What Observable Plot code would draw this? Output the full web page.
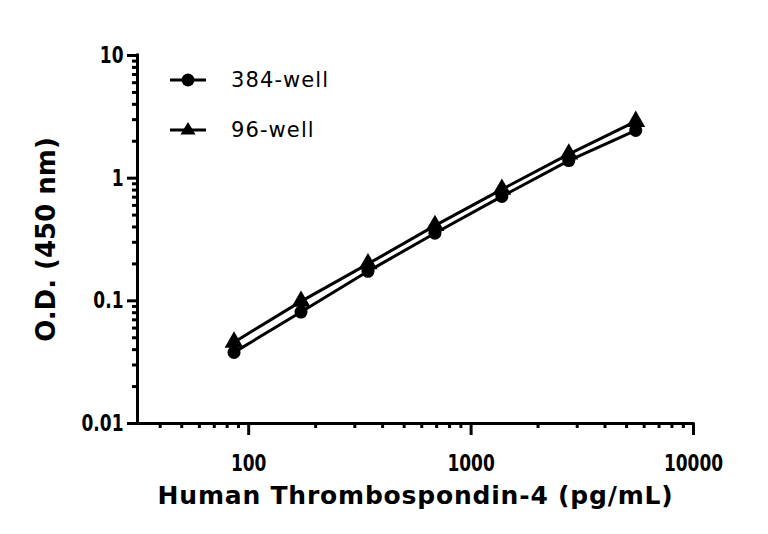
<!DOCTYPE html>
<html>
<head>
<meta charset="utf-8">
<script src="https://cdn.jsdelivr.net/npm/d3@7"></script>
<script src="https://cdn.jsdelivr.net/npm/@observablehq/plot@0.6"></script>
<style>
  html, body { margin: 0; padding: 0; background: #fff; }
  #chart { position: relative; width: 768px; height: 534px; }
  #legend { position: absolute; left: 168px; top: 55px; font-family: "DejaVu Sans", sans-serif; font-size: 21px; letter-spacing: 1.1px; color: #000; }
  #legend .row { display: flex; align-items: center; height: 50px; }
  #legend svg { margin-right: 23px; }
</style>
</head>
<body>
<div id="chart"></div>
<script>
// Standard curve: concentration (pg/mL) vs optical density at 450 nm
const concentrations = [85.9, 171.9, 343.8, 687.5, 1375, 2750, 5500];
const od384 = [0.038, 0.081, 0.174, 0.356, 0.71, 1.39, 2.45];
const od96 = [0.046, 0.099, 0.20, 0.41, 0.81, 1.57, 2.9];
const seriesNames = ["384-well", "96-well"];

const xTicks = [100, 1000, 10000];
const yTicks = [0.01, 0.1, 1, 10];
const yTickLabels = ["0.01", "0.1", "1", "10"];

const xDomain = [Math.sqrt(10) * 10, 10000];
const yDomain = [0.01, 10];

// minor ticks at 2..9 times each decade
const minorTicks = (lo, hi) => {
  const out = [];
  for (let d = Math.floor(Math.log10(lo)); d < Math.log10(hi); d++)
    for (let m = 2; m <= 9; m++) {
      const v = m * 10 ** d;
      if (v > lo && v < hi) out.push(v);
    }
  return out;
};

const rows384 = concentrations.map((c, i) => ({c, od: od384[i]}));
const rows96 = concentrations.map((c, i) => ({c, od: od96[i]}));

const tickFont = {fontFamily: "'DejaVu Sans', sans-serif", fontWeight: "bold", fontSize: 23};

const chart = Plot.plot({
  width: 768,
  height: 534,
  marginLeft: 137,
  marginRight: 75,
  marginTop: 55,
  marginBottom: 111,
  style: {background: "#fff", color: "#000", overflow: "visible"},
  x: {type: "log", domain: xDomain},
  y: {type: "log", domain: yDomain},
  marks: [
    Plot.axisX({ticks: minorTicks(xDomain[0], xDomain[1]), tickSize: 5, strokeWidth: 3, tickFormat: () => "", label: null}),
    Plot.axisX({ticks: xTicks, tickSize: 12, strokeWidth: 3, tickPadding: 19, tickFormat: d => String(d), ...tickFont,
      label: "Human Thrombospondin-4 (pg/mL)", labelAnchor: "center", labelArrow: "none", labelOffset: 80}),
    Plot.axisY({ticks: minorTicks(yDomain[0], yDomain[1]), tickSize: 5, strokeWidth: 3, tickFormat: () => "", label: null}),
    Plot.axisY({ticks: yTicks, tickSize: 10, strokeWidth: 3, tickPadding: 4, tickFormat: d => yTickLabels[yTicks.indexOf(d)], ...tickFont,
      label: "O.D. (450 nm)", labelAnchor: "center", labelArrow: "none", labelOffset: 101}),
    Plot.ruleX([xDomain[0]], {strokeWidth: 3, strokeLinecap: "square"}),
    Plot.ruleY([yDomain[0]], {strokeWidth: 3, strokeLinecap: "square"}),
    Plot.line(rows96, {x: "c", y: "od", stroke: "#000", strokeWidth: 3}),
    Plot.line(rows384, {x: "c", y: "od", stroke: "#000", strokeWidth: 3}),
    Plot.dot(rows384, {x: "c", y: "od", symbol: "circle", fill: "#000", r: 6.5}),
    Plot.dot(rows96, {x: "c", y: "od", symbol: "triangle", fill: "#000", r: 7})
  ]
});

const host = document.getElementById("chart");
host.appendChild(chart);

// axis titles in a bold sans
d3.select(chart).selectAll("g[aria-label='x-axis label'] text")
  .attr("font-family", "'DejaVu Sans', sans-serif").attr("font-weight", "bold").attr("font-size", 25).attr("letter-spacing", 0.8);
d3.select(chart).selectAll("g[aria-label='y-axis label'] text")
  .attr("font-family", "'DejaVu Sans', sans-serif").attr("font-weight", "bold").attr("font-size", 26);

// narrow the tick numerals
d3.select(chart).selectAll("g[aria-label='x-axis tick label'] text, g[aria-label='y-axis tick label'] text")
  .each(function() {
    const w = this.getComputedTextLength();
    if (w > 0) d3.select(this).attr("textLength", w * 0.74).attr("lengthAdjust", "spacingAndGlyphs");
  });

// legend: line + marker swatch next to each series name
const legend = document.createElement("div");
legend.id = "legend";
const symbols = [
  '<circle cx="20" cy="10" r="6.5" fill="#000"/>',
  '<path d="M20,2 L27.5,14.5 L12.5,14.5 Z" fill="#000"/>'
];
seriesNames.forEach((name, i) => {
  const row = document.createElement("div");
  row.className = "row";
  row.innerHTML = `<svg width="40" height="20" viewBox="0 0 40 20"><line x1="2" x2="38" y1="10" y2="10" stroke="#000" stroke-width="3"/>${symbols[i]}</svg><span>${name}</span>`;
  legend.appendChild(row);
});
host.appendChild(legend);
</script>
</body>
</html>
